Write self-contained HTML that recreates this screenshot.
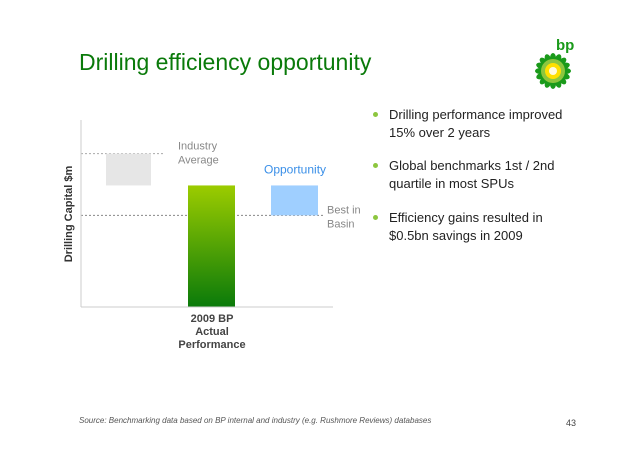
<!DOCTYPE html>
<html><head><meta charset="utf-8"><style>
body{margin:0;width:638px;height:451px;background:#fff;font-family:"Liberation Sans",sans-serif;position:relative;overflow:hidden}
.t{position:absolute;white-space:nowrap}
.d{position:absolute;width:5px;height:5px;border-radius:50%;background:#8dc63f}
</style></head><body>
<div class="t" style="left:79px;top:49px;font-size:23px;color:#0a7a0a">Drilling efficiency opportunity</div>
<svg style="position:absolute;left:528px;top:34px" width="56" height="60" viewBox="0 0 56 60">
<text x="28" y="16" font-size="15" font-weight="bold" fill="#1a9a1a" font-family="Liberation Sans">bp</text>
<g id="sun" transform="translate(25,37)"></g>
</svg>
<div class="d" style="left:373px;top:112px"></div>
<div class="t" style="left:389px;top:106px;font-size:13px;color:#222;line-height:18px">Drilling performance improved<br>15% over 2 years</div>
<div class="d" style="left:373px;top:163px"></div>
<div class="t" style="left:389px;top:157px;font-size:13px;color:#222;line-height:18px">Global benchmarks 1st / 2nd<br>quartile in most SPUs</div>
<div class="d" style="left:373px;top:215px"></div>
<div class="t" style="left:389px;top:209px;font-size:13px;color:#222;line-height:18px">Efficiency gains resulted in<br>$0.5bn savings in 2009</div>
<div class="t" style="left:79px;top:416px;font-size:8px;font-style:italic;color:#555">Source: Benchmarking data based on BP internal and industry (e.g. Rushmore Reviews) databases</div>
<div class="t" style="left:566px;top:418px;font-size:9px;color:#444">43</div>
<svg id="chart" style="position:absolute;left:0;top:0" width="638" height="451">
<defs><linearGradient id="g" x1="0" y1="0" x2="0" y2="1"><stop offset="0" stop-color="#9ccc00"/><stop offset="1" stop-color="#0a7a0a"/></linearGradient></defs>
<text transform="translate(72,214) rotate(-90)" text-anchor="middle" font-size="11" font-weight="bold" fill="#333" font-family="Liberation Sans">Drilling Capital $m</text>
</svg>
<script>
const categories=["Industry Average","2009 BP Actual Performance","Opportunity"];
const industryAvg=[82];
const actual=[65];
const bestInBasin=[49];
const yMax=100;
const svg=document.getElementById('chart');
const NS='http://www.w3.org/2000/svg';
const y0=307,yTop=120,xL=81,xR=333;
function y(v){return y0-(v/yMax)*(y0-yTop);}
function el(tag,attrs,name){const e=document.createElementNS(NS,tag);for(const k in attrs)e.setAttribute(k,attrs[k]);


svg.appendChild(e);return e;}
const ia=industryAvg[0],ac=actual[0],bb=bestInBasin[0];
el('line',{x1:xL,y1:y(ia),x2:165,y2:y(ia),stroke:'#aaa','stroke-dasharray':'2,2'},'industry-average-line');
el('line',{x1:xL,y1:y(bb),x2:325,y2:y(bb),stroke:'#888','stroke-dasharray':'2,2'},'best-in-basin-line');
el('rect',{x:106,y:y(ia),width:45,height:y(ac)-y(ia),fill:'#e6e6e6'},'industry-gap-bar');
el('rect',{x:188,y:y(ac),width:47,height:y0-y(ac),fill:'url(#g)'},'actual-bar');
el('rect',{x:271,y:y(ac),width:47,height:y(bb)-y(ac),fill:'#9fcfff'},'opportunity-bar');
el('line',{x1:xL,y1:yTop,x2:xL,y2:y0,stroke:'#ccc'},'y-axis');
el('line',{x1:xL,y1:y0,x2:xR,y2:y0,stroke:'#ccc'},'x-axis');
function txt(x,yy,s,opt,name){const t=el('text',Object.assign({x:x,y:yy,'font-family':'Liberation Sans','font-size':11,fill:'#888'},opt),name);t.textContent=s;}
txt(178,y(ia)-4,'Industry',{},'industry-label');txt(178,y(ia)+10,'Average',{},'industry-label-2');
txt(264,y(ac)-12,'Opportunity',{fill:'#3a8fe8','font-size':12},'opportunity-label');
txt(327,y(bb)-2,'Best in',{},'best-label');txt(327,y(bb)+12,'Basin',{},'best-label-2');
const lb={'text-anchor':'middle','font-weight':'bold',fill:'#444'};
txt(212,322,'2009 BP',lb,'x-label-1');txt(212,335,'Actual',lb,'x-label-2');txt(212,348,'Performance',lb,'x-label-3');
const g=document.getElementById('sun');
for(let i=0;i<16;i++){const a=i*Math.PI/8;const p=document.createElementNS(NS,'ellipse');
p.setAttribute('cx',13*Math.cos(a));p.setAttribute('cy',13*Math.sin(a));p.setAttribute('rx',5);p.setAttribute('ry',3);
p.setAttribute('transform','rotate('+(i*22.5)+' '+13*Math.cos(a)+' '+13*Math.sin(a)+')');p.setAttribute('fill','#1a9a1a');g.appendChild(p);}
const c1=document.createElementNS(NS,'circle');c1.setAttribute('r',12);c1.setAttribute('fill','#8dc63f');g.appendChild(c1);
const c2=document.createElementNS(NS,'circle');c2.setAttribute('r',8);c2.setAttribute('fill','#ffe000');g.appendChild(c2);
const c3=document.createElementNS(NS,'circle');c3.setAttribute('r',4);c3.setAttribute('fill','#fffbe0');g.appendChild(c3);
</script>
</body></html>
